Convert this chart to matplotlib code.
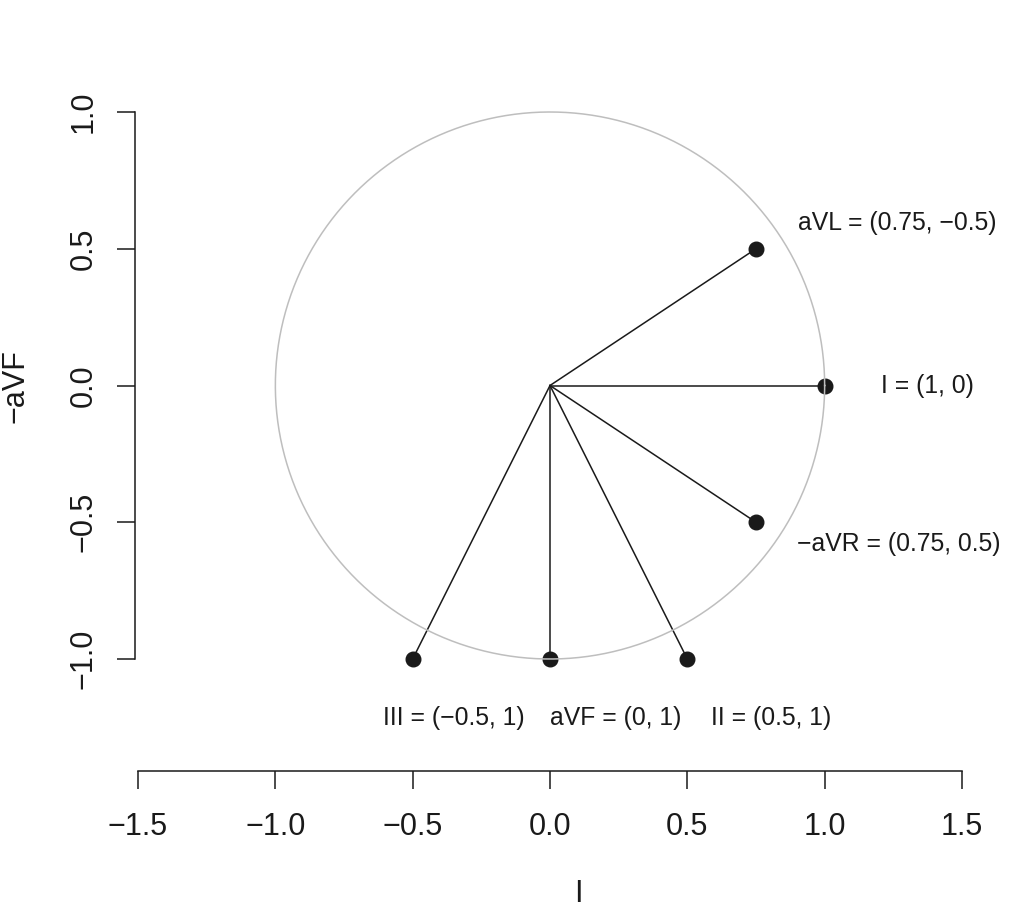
import numpy as np
import matplotlib.pyplot as plt

plt.rcParams["font.family"] = ["Liberation Sans", "DejaVu Sans"]

# lead vectors (x = lead I, y = -aVF)
leads = ["aVL", "I", "\u2212aVR", "II", "aVF", "III"]
lead_x = [0.75, 1.0, 0.75, 0.5, 0.0, -0.5]
lead_y = [0.5, 0.0, -0.5, -1.0, -1.0, -1.0]
coord_text = ["(0.75, \u22120.5)", "(1, 0)", "(0.75, 0.5)", "(0.5, 1)", "(0, 1)", "(\u22120.5, 1)"]

x_ticks = [-1.5, -1.0, -0.5, 0.0, 0.5, 1.0, 1.5]
y_ticks = [-1.0, -0.5, 0.0, 0.5, 1.0]

# label placement (data units) next to each point
label_pos = [(1.263, 0.594), (1.373, 0.0), (1.271, -0.578),
             (0.805, -1.214), (0.240, -1.214), (-0.350, -1.214)]

W, H = 1020, 907
fig = plt.figure(figsize=(W / 100, H / 100), dpi=100)
ax = fig.add_axes([135 / W, (H - 771) / H, 830 / W, 771 / H])
ax.set_xlim(-1.511, 1.511)
ax.set_ylim(-1.4095, 1.4095)

# spokes from the origin
for x, y in zip(lead_x, lead_y):
    ax.plot([0, x], [0, y], color="#1a1a1a", linewidth=1.1, zorder=2)
ax.plot(lead_x, lead_y, "o", color="#1a1a1a", markersize=10.5, zorder=3)

# unit circle
t = np.linspace(0, 2 * np.pi, 400)
ax.plot(np.cos(t), np.sin(t), color="#bebebe", linewidth=1.1, zorder=4)

for name, txt, (lx, ly) in zip(leads, coord_text, label_pos):
    ax.text(lx, ly, f"{name} = {txt}", ha="center", va="center",
            fontsize=17.8, color="#1a1a1a")

# R-style detached axes
for s in ["top", "right"]:
    ax.spines[s].set_visible(False)
ax.spines["bottom"].set_bounds(-1.5, 1.5)
ax.spines["left"].set_bounds(-1.0, 1.0)
for s in ["bottom", "left"]:
    ax.spines[s].set_linewidth(1.1)
    ax.spines[s].set_color("#1a1a1a")

ax.set_xticks(x_ticks)
ax.set_xticklabels([f"{v:.1f}".replace("-", "\u2212") for v in x_ticks])
ax.set_yticks(y_ticks)
ax.set_yticklabels([f"{v:.1f}".replace("-", "\u2212") for v in y_ticks],
                   rotation=90, va="center")
ax.tick_params(axis="both", length=13, width=1.1, color="#1a1a1a",
               labelsize=22, labelcolor="#1a1a1a")
ax.tick_params(axis="x", pad=16.5)
ax.tick_params(axis="y", pad=13)

fig.text(578 / W, 1 - 894 / H, "I", ha="center", va="center",
         fontsize=22, color="#1a1a1a")
fig.text(16 / W, 1 - 386 / H, "\u2212aVF", ha="center", va="center",
         rotation=90, fontsize=22, color="#1a1a1a")

fig.savefig("out.png", dpi=100)
